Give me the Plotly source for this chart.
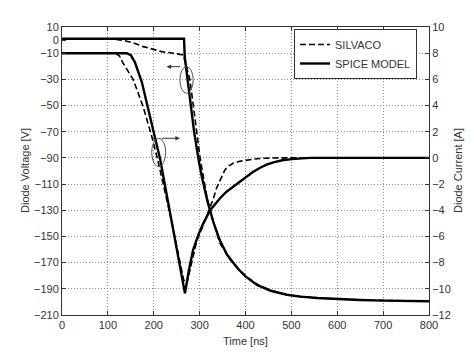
import plotly.graph_objects as go

# ---- data ----
# Diode voltage [V], left axis
t_v_spice = [0, 266, 267.5, 274, 281, 288, 297, 304.5, 318, 330, 344, 360, 383, 400, 425, 455, 490, 520, 556, 600, 650, 700, 800]
v_spice = [1, 1, -12.7, -30.5, -50, -70, -90, -104, -124.5, -139, -153, -164, -174.5, -180.5, -187, -191.5, -194.5, -196, -197, -197.8, -198.5, -199, -199.5]

t_v_silvaco = [0, 105, 130, 155, 177, 199, 220, 242, 264.5, 279, 286, 293.6, 301, 308, 316, 330, 344, 365, 388, 405, 430, 460, 490, 520, 556, 600, 650, 700, 800]
v_silvaco = [1, 1, 0, -2, -5, -7, -9, -10, -11.4, -30.5, -50, -70, -90, -104, -120, -139, -155, -167, -176, -181.5, -187.5, -191.8, -194.5, -196, -197, -197.8, -198.5, -199, -199.5]

# Diode current [A], right axis
t_i_spice = [0, 141, 150, 159, 174, 188, 203, 214, 240, 268, 277, 286, 297, 308, 323, 344, 358, 373, 387, 401, 416, 432, 446, 461, 480, 501, 520, 540, 800]
i_spice = [8, 8, 7.85, 7.3, 5.8, 3.6, 1.5, -0.1, -5.0, -10.35, -8.5, -7.0, -5.9, -5.0, -4.0, -3.1, -2.6, -2.2, -1.8, -1.44, -1.08, -0.75, -0.52, -0.34, -0.18, -0.09, -0.03, 0, 0]

t_i_silvaco = [0, 116, 125, 133, 155, 177, 196, 209, 240, 265, 272, 283, 294, 305, 315, 323, 330, 337, 346, 355, 364, 373, 387, 401, 420, 440, 470, 800]
i_silvaco = [8, 8, 7.8, 7.25, 6.0, 3.9, 1.6, -0.2, -5.0, -9.3, -9.6, -8.0, -6.3, -5.4, -4.5, -3.85, -3.1, -2.3, -1.55, -0.92, -0.6, -0.41, -0.26, -0.16, -0.08, -0.03, 0, 0]

x_ticks = [0, 100, 200, 300, 400, 500, 600, 700, 800]
v_ticks = [10, 0, -10, -30, -50, -70, -90, -110, -130, -150, -170, -190, -210]
i_ticks = [10, 8, 6, 4, 2, 0, -2, -4, -6, -8, -10, -12]

FONT = "Liberation Sans, Arial, sans-serif"
TXT = "#333333"
DASH = "6px,3px"

fig = go.Figure()

# current traces (right axis)
fig.add_trace(go.Scatter(x=t_i_silvaco, y=i_silvaco, mode="lines", yaxis="y2",
                         line=dict(color="black", width=1.6, dash=DASH),
                         showlegend=False, hoverinfo="skip"))
fig.add_trace(go.Scatter(x=t_i_spice, y=i_spice, mode="lines", yaxis="y2",
                         line=dict(color="black", width=2.4),
                         showlegend=False, hoverinfo="skip"))
# voltage traces (left axis)
fig.add_trace(go.Scatter(x=t_v_silvaco, y=v_silvaco, mode="lines", name="SILVACO",
                         line=dict(color="black", width=1.6, dash=DASH)))
fig.add_trace(go.Scatter(x=t_v_spice, y=v_spice, mode="lines", name="SPICE MODEL",
                         line=dict(color="black", width=2.4)))

# ellipses marking which curves belong to which axis
fig.add_shape(type="circle", xref="x", yref="y", x0=257, x1=286, y0=-20.3, y1=-40.6,
              line=dict(color="#555555", width=1))
fig.add_shape(type="circle", xref="x", yref="y", x0=195.5, x1=226, y0=-75, y1=-96.6,
              line=dict(color="#555555", width=1))
# arrows
fig.add_annotation(x=228, y=-20.3, ax=261, ay=-20.3, xref="x", yref="y", axref="x", ayref="y",
                   text="", showarrow=True, arrowhead=2, arrowsize=0.9, arrowwidth=1, arrowcolor="#333333")
fig.add_annotation(x=257, y=-75, ax=214, ay=-75, xref="x", yref="y", axref="x", ayref="y",
                   text="", showarrow=True, arrowhead=2, arrowsize=0.9, arrowwidth=1, arrowcolor="#333333")

# axis titles
W, H = 474, 355
L, R, T, B = 62, 45, 27, 40
pw, ph = W - L - R, H - T - B
title_font = dict(family=FONT, size=11, color=TXT)
fig.add_annotation(text="Time [ns]", xref="paper", yref="paper",
                   x=(245 - L) / pw, y=-(341 - (H - B)) / ph, showarrow=False,
                   xanchor="center", yanchor="middle", font=title_font)
fig.add_annotation(text="Diode Voltage [V]", xref="paper", yref="paper", textangle=-90,
                   x=-(L - 25) / pw, y=0.5, showarrow=False,
                   xanchor="center", yanchor="middle", font=title_font)
fig.add_annotation(text="Diode Current [A]", xref="paper", yref="paper", textangle=-90,
                   x=1 + (458 - (W - R)) / pw, y=0.5, showarrow=False,
                   xanchor="center", yanchor="middle", font=title_font)

tickfont = dict(family=FONT, size=11, color=TXT)
GRID = dict(gridcolor="#8c8c8c", griddash="1px,2px", gridwidth=1)

fig.update_layout(
    width=W, height=H,
    margin=dict(l=L, r=R, t=T, b=B, autoexpand=False),
    paper_bgcolor="white", plot_bgcolor="white",
    font=dict(family=FONT, size=11, color=TXT),
    xaxis=dict(range=[0, 800], tickvals=x_ticks, showgrid=True, **GRID,
               showline=True, linecolor="#333333", linewidth=1, mirror="ticks",
               ticks="inside", ticklen=4, tickcolor="#333333", tickfont=tickfont, zeroline=False),
    yaxis=dict(range=[-210, 10], tickvals=v_ticks, showgrid=False,
               showline=True, linecolor="#333333", linewidth=1, mirror=True,
               ticks="inside", ticklen=4, tickcolor="#333333", tickfont=tickfont, zeroline=False),
    yaxis2=dict(range=[-12, 10], tickvals=i_ticks, overlaying="y", side="right",
                showgrid=True, **GRID,
                showline=True, linecolor="#333333", linewidth=1,
                ticks="inside", ticklen=4, tickcolor="#333333", tickfont=tickfont, zeroline=False),
    legend=dict(x=(417 - L) / pw, y=1 - (54 - T) / ph, xanchor="right", yanchor="middle",
                bgcolor="white", bordercolor="#333333", borderwidth=1,
                font=dict(family=FONT, size=11, color=TXT),
                tracegroupgap=0, itemwidth=30),
    showlegend=True,
)

fig.write_html("out.html", config={"displayModeBar": False},
               post_script="document.body.style.margin='0';")
